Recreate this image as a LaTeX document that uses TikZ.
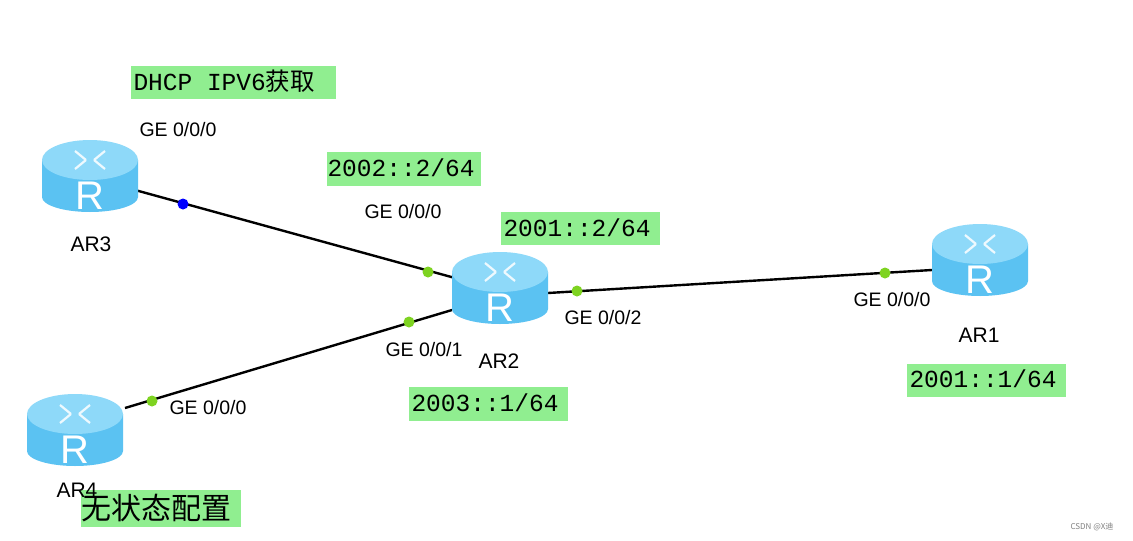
\documentclass[tikz,border=0pt]{standalone}
\usepackage{fontspec}
\setmainfont{Liberation Sans}
\newfontfamily\monof{Liberation Mono}
\newfontfamily\cjk{Noto Sans CJK SC}
\definecolor{lbl}{HTML}{90EE90}
\definecolor{rtop}{HTML}{8ED9F9}
\definecolor{rbody}{HTML}{5BC2F2}
\definecolor{gd}{HTML}{7ED321}
\tikzset{
  gtxt/.style={anchor=west, font=\monof\fontsize{24.5}{24.5}\selectfont},
  port/.style={font=\fontsize{19.5}{19.5}\selectfont},
  rname/.style={font=\fontsize{21}{21}\selectfont},
  link/.style={line width=2.4pt},
  gdot/.style={circle, fill=gd, minimum size=11pt, inner sep=0pt},
}
\newcommand{\router}[3]{%
  \fill[rbody] (#1-48,#2-16) -- (#1-48,#2+21) arc[start angle=180,end angle=0,x radius=48,y radius=15] -- (#1+48,#2-16) -- cycle;
  \fill[rtop] (#1,#2-16) ellipse[x radius=48,y radius=20];
  \node[white, font=\fontsize{40}{40}\selectfont] at (#1,#2+20) {R};
  \draw[white, line width=2.2pt, opacity=0.85] (#1-15,#2-25) -- (#1-4,#2-16) (#1+15,#2-25) -- (#1+4,#2-16) (#1-15,#2-7) -- (#1-4,#2-16) (#1+15,#2-7) -- (#1+4,#2-16);
  \coordinate (#3) at (#1,#2);
}
\begin{document}
\begin{tikzpicture}[x=1pt,y=-1pt]
\useasboundingbox[fill=white] (0,0) rectangle (1133,541);
\coordinate (a3) at (135,190); \coordinate (a2l) at (455,278);
\coordinate (a4) at (125,408); \coordinate (a2b) at (452,310);
\coordinate (a2r) at (548,293); \coordinate (a1) at (932,270);
\draw[link] (a3) -- (a2l);
\draw[link] (a4) -- (a2b);
\draw[link] (a2r) -- (a1);
\router{90}{176}{r3}
\router{500}{288}{r2}
\router{980}{260}{r1}
\router{75}{430}{r4}
\node[gdot, fill=blue] (d1) at (183,204) {};
\node[gdot] (d2) at (428,272) {};
\node[gdot] (d3) at (152,401) {};
\node[gdot] (d4) at (409,322) {};
\node[gdot] (d5) at (577,291) {};
\node[gdot] (d6) at (885,273) {};
% green labels
\fill[lbl] (131,66) rectangle (336,99); \node[gtxt] (t1) at (130,81) {DHCP IPV6{\cjk 获取}};
\fill[lbl] (327,152) rectangle (481,186); \node[gtxt] (t2) at (324,168) {2002::2/64};
\fill[lbl] (501,212) rectangle (660,245); \node[gtxt] (t3) at (500,228) {2001::2/64};
\fill[lbl] (409,387) rectangle (568,421); \node[gtxt] (t4) at (408,403) {2003::1/64};
\fill[lbl] (907,364) rectangle (1066,397); \node[gtxt] (t5) at (906,379) {2001::1/64};
\fill[lbl] (81,490) rectangle (241,527); \node[anchor=west, font=\cjk\fontsize{30}{30}\selectfont] (t6) at (78,508) {无状态配置};
% port labels
\node[port] (p1) at (178,130) {GE 0/0/0};
\node[port] (p2) at (403,212) {GE 0/0/0};
\node[port] (p3) at (603,318) {GE 0/0/2};
\node[port] (p4) at (424,350) {GE 0/0/1};
\node[port] (p5) at (892,300) {GE 0/0/0};
\node[port] (p6) at (208,408) {GE 0/0/0};
\node[rname] (n3) at (91,244) {AR3};
\node[rname] (n2) at (499,361) {AR2};
\node[rname] (n1) at (979,335) {AR1};
\node[rname] (n4) at (77,490) {AR4};
\node[gray, font=\cjk\fontsize{8}{8}\selectfont] (c) at (1092,527) {CSDN @X迪};
\end{tikzpicture}
\end{document}
